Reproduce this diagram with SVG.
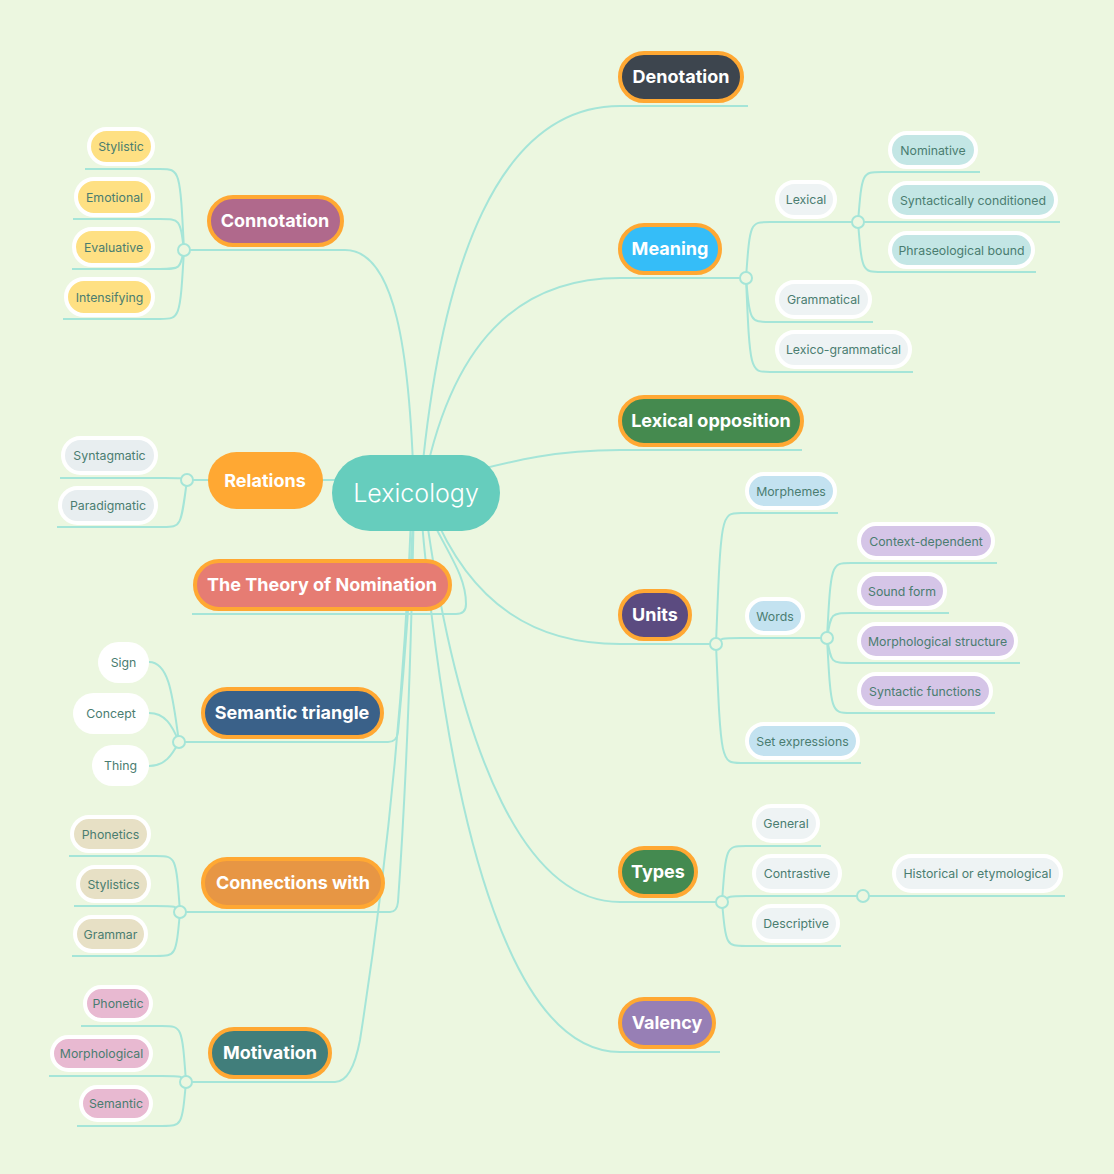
<svg xmlns="http://www.w3.org/2000/svg" width="1114" height="1174" viewBox="0 0 1114 1174">
<style>
.c{fill:none;stroke:#A5E5D8;stroke-width:2}
.j{fill:#ECF7E0;stroke:#A5E5D8;stroke-width:2}
.m{stroke:#FFA833;stroke-width:4}
.mt{font-family:Inter,"Noto Sans",sans-serif;font-weight:700;font-size:18px;fill:#FFFFFF;text-anchor:middle}
.s{stroke:#FFFFFF;stroke-width:4}
.st{font-family:Inter,"Noto Sans",sans-serif;font-size:12.3px;fill:#4A7D70;text-anchor:middle}
</style>
<rect width="1114" height="1174" fill="#ECF7E0"/>
<g id="connectors">
<path class="c" d="M420 493 C440 260 500 106 620 106 H748"/>
<path class="c" d="M422 493 C450 340 520 278 620 278 H746"/>
<path class="c" d="M440 480 C520 458 560 450 620 450 H802"/>
<path class="c" d="M428 500 C470 610 540 644 620 644 H716"/>
<path class="c" d="M424 500 C460 770 530 902 620 902 H722"/>
<path class="c" d="M420 500 C450 860 520 1052 620 1052 H720"/>
<path class="c" d="M184 250 H345 C395 250 410 350 414 493"/>
<path class="c" d="M187 480 H416"/>
<path class="c" d="M192 614 H456 Q466 614 466 604 C466 570 440 545 420 493"/>
<path class="c" d="M179 742 H388 Q397 742 398 732 C406 650 411 580 414 493"/>
<path class="c" d="M180 912 H390 Q397 912 398 902 C408 760 412 620 414 493"/>
<path class="c" d="M186 1082 H335 Q352 1082 360 1040 C385 880 405 700 412 493"/>
<path class="c" d="M184 250 C180 169 180 169 160 169 H85"/>
<path class="c" d="M184 250 C180 219 180 219 160 219 H73"/>
<path class="c" d="M184 250 C180 269 180 269 160 269 H72"/>
<path class="c" d="M184 250 C180 319 180 319 160 319 H63"/>
<path class="c" d="M187 480 C181 478 181 478 165 478 H60"/>
<path class="c" d="M187 480 C181 527 181 527 163 527 H57"/>
<path class="c" d="M179 742 C173 700 170 662 149 662"/>
<path class="c" d="M179 742 C172 725 165 713 149 713"/>
<path class="c" d="M179 742 C172 755 165 766 149 766"/>
<path class="c" d="M180 912 C176 856 176 856 156 856 H69"/>
<path class="c" d="M180 912 C176 906 176 906 156 906 H74"/>
<path class="c" d="M180 912 C176 956 176 956 156 956 H72"/>
<path class="c" d="M186 1082 C182 1026 182 1026 162 1026 H81"/>
<path class="c" d="M186 1082 C182 1076 182 1076 162 1076 H49"/>
<path class="c" d="M186 1082 C182 1126 182 1126 162 1126 H77"/>
<path class="c" d="M746 278 C750 222 750 222 770 222 H858"/>
<path class="c" d="M746 278 C750 322 750 322 770 322 H873"/>
<path class="c" d="M746 278 C750 372 750 372 770 372 H913"/>
<path class="c" d="M858 222 C862 172 862 172 882 172 H980"/>
<path class="c" d="M858 222 H1060"/>
<path class="c" d="M858 222 C862 272 862 272 882 272 H1036"/>
<path class="c" d="M716 644 C721 513 721 513 741 513 H838"/>
<path class="c" d="M716 644 C721 638 721 638 741 638 H827"/>
<path class="c" d="M716 644 C721 763 721 763 741 763 H861"/>
<path class="c" d="M827 638 C831 563 831 563 851 563 H997"/>
<path class="c" d="M827 638 C831 613 831 613 851 613 H949"/>
<path class="c" d="M827 638 C831 663 831 663 851 663 H1020"/>
<path class="c" d="M827 638 C831 713 831 713 851 713 H995"/>
<path class="c" d="M722 902 C726 846 726 846 746 846 H821"/>
<path class="c" d="M722 902 C728 896 730 896 746 896 H863"/>
<path class="c" d="M722 902 C726 946 726 946 746 946 H841"/>
<path class="c" d="M863 896 H1065"/>
<circle class="j" cx="184" cy="250" r="6"/>
<circle class="j" cx="187" cy="480" r="6"/>
<circle class="j" cx="179" cy="742" r="6"/>
<circle class="j" cx="180" cy="912" r="6"/>
<circle class="j" cx="186" cy="1082" r="6"/>
<circle class="j" cx="746" cy="278" r="6"/>
<circle class="j" cx="858" cy="222" r="6"/>
<circle class="j" cx="716" cy="644" r="6"/>
<circle class="j" cx="827" cy="638" r="6"/>
<circle class="j" cx="722" cy="902" r="6"/>
<circle class="j" cx="863" cy="896" r="6"/>
</g>
<g id="lexicology"><rect x="332" y="455" width="168" height="76" rx="38" fill="#66CDBD"/><text x="416" y="502" font-family="Inter,'Noto Sans',sans-serif" font-weight="300" font-size="25" fill="#FFFFFF" text-anchor="middle">Lexicology</text></g>
<g id="denotation"><rect class="m" x="620" y="53" width="122" height="48" rx="24" fill="#3D454E"/><text class="mt" x="681" y="83">Denotation</text></g>
<g id="meaning"><rect class="m" x="620" y="225" width="100" height="48" rx="24" fill="#35BDF8"/><text class="mt" x="670" y="255">Meaning</text></g>
<g id="lexical-opposition"><rect class="m" x="620" y="397" width="182" height="48" rx="24" fill="#458A4F"/><text class="mt" x="711" y="427">Lexical opposition</text></g>
<g id="units"><rect class="m" x="620" y="591" width="70" height="48" rx="24" fill="#5B4B80"/><text class="mt" x="655" y="621">Units</text></g>
<g id="types"><rect class="m" x="620" y="848" width="76" height="48" rx="24" fill="#448A50"/><text class="mt" x="658" y="878">Types</text></g>
<g id="valency"><rect class="m" x="620" y="999" width="94" height="48" rx="24" fill="#977FB5"/><text class="mt" x="667" y="1029">Valency</text></g>
<g id="connotation"><rect class="m" x="209" y="197" width="133" height="48" rx="24" fill="#B0698C"/><text class="mt" x="275" y="227">Connotation</text></g>
<g id="relations"><rect x="208" y="452" width="115" height="57" rx="28.5" fill="#FFA833"/><text class="mt" x="265" y="487">Relations</text></g>
<g id="theory-of-nomination"><rect class="m" x="195" y="561" width="255" height="48" rx="24" fill="#E67C73"/><text class="mt" x="322" y="591">The Theory of Nomination</text></g>
<g id="semantic-triangle"><rect class="m" x="203" y="689" width="179" height="48" rx="24" fill="#3A6189"/><text class="mt" x="292" y="719">Semantic triangle</text></g>
<g id="connections-with"><rect class="m" x="203" y="859" width="180" height="48" rx="24" fill="#E79644"/><text class="mt" x="293" y="889">Connections with</text></g>
<g id="motivation"><rect class="m" x="210" y="1029" width="120" height="48" rx="24" fill="#417E7B"/><text class="mt" x="270" y="1059">Motivation</text></g>
<g id="stylistic"><rect class="s" x="89" y="129" width="64" height="35" rx="17.5" fill="#FEE083"/><text class="st" x="121" y="151">Stylistic</text></g>
<g id="emotional"><rect class="s" x="76" y="179" width="77" height="36" rx="18" fill="#FEE083"/><text class="st" x="114.5" y="201.5">Emotional</text></g>
<g id="evaluative"><rect class="s" x="74" y="229" width="79" height="36" rx="18" fill="#FEE083"/><text class="st" x="113.5" y="251.5">Evaluative</text></g>
<g id="intensifying"><rect class="s" x="66" y="279" width="87" height="36" rx="18" fill="#FEE083"/><text class="st" x="109.5" y="301.5">Intensifying</text></g>
<g id="syntagmatic"><rect class="s" x="63" y="438" width="93" height="35" rx="17.5" fill="#E8EEF0"/><text class="st" x="109.5" y="460">Syntagmatic</text></g>
<g id="paradigmatic"><rect class="s" x="60" y="488" width="96" height="35" rx="17.5" fill="#E8EEF0"/><text class="st" x="108" y="510">Paradigmatic</text></g>
<g id="sign"><rect x="98" y="642" width="51" height="41" rx="20.5" fill="#FFFFFF"/><text class="st" x="123.5" y="667">Sign</text></g>
<g id="concept"><rect x="73" y="693" width="76" height="41" rx="20.5" fill="#FFFFFF"/><text class="st" x="111" y="718">Concept</text></g>
<g id="thing"><rect x="92" y="745" width="57" height="41" rx="20.5" fill="#FFFFFF"/><text class="st" x="120.5" y="770">Thing</text></g>
<g id="phonetics"><rect class="s" x="72" y="817" width="77" height="34" rx="17" fill="#E7E0C5"/><text class="st" x="110.5" y="838.5">Phonetics</text></g>
<g id="stylistics"><rect class="s" x="78" y="867" width="71" height="34" rx="17" fill="#E7E0C5"/><text class="st" x="113.5" y="888.5">Stylistics</text></g>
<g id="grammar"><rect class="s" x="75" y="917" width="71" height="34" rx="17" fill="#E7E0C5"/><text class="st" x="110.5" y="938.5">Grammar</text></g>
<g id="phonetic"><rect class="s" x="85" y="987" width="66" height="33" rx="16.5" fill="#E8B9D1"/><text class="st" x="118" y="1008">Phonetic</text></g>
<g id="morphological"><rect class="s" x="52" y="1037" width="99" height="33" rx="16.5" fill="#E8B9D1"/><text class="st" x="101.5" y="1058">Morphological</text></g>
<g id="semantic"><rect class="s" x="81" y="1087" width="70" height="33" rx="16.5" fill="#E8B9D1"/><text class="st" x="116" y="1108">Semantic</text></g>
<g id="lexical"><rect class="s" x="777" y="182" width="58" height="35" rx="17.5" fill="#EEF3F4"/><text class="st" x="806" y="204">Lexical</text></g>
<g id="grammatical"><rect class="s" x="777" y="282" width="93" height="35" rx="17.5" fill="#EEF3F4"/><text class="st" x="823.5" y="304">Grammatical</text></g>
<g id="lexico-grammatical"><rect class="s" x="777" y="332" width="133" height="35" rx="17.5" fill="#EEF3F4"/><text class="st" x="843.5" y="354">Lexico-grammatical</text></g>
<g id="nominative"><rect class="s" x="890" y="133" width="86" height="34" rx="17" fill="#C3E6E5"/><text class="st" x="933" y="154.5">Nominative</text></g>
<g id="syntactically-conditioned"><rect class="s" x="890" y="183" width="166" height="34" rx="17" fill="#C3E6E5"/><text class="st" x="973" y="204.5">Syntactically conditioned</text></g>
<g id="phraseological-bound"><rect class="s" x="890" y="233" width="143" height="34" rx="17" fill="#C3E6E5"/><text class="st" x="961.5" y="254.5">Phraseological bound</text></g>
<g id="morphemes"><rect class="s" x="747" y="474" width="88" height="34" rx="17" fill="#C3E2F0"/><text class="st" x="791" y="495.5">Morphemes</text></g>
<g id="words"><rect class="s" x="747" y="599" width="56" height="34" rx="17" fill="#C3E2F0"/><text class="st" x="775" y="620.5">Words</text></g>
<g id="set-expressions"><rect class="s" x="747" y="724" width="111" height="34" rx="17" fill="#C3E2F0"/><text class="st" x="802.5" y="745.5">Set expressions</text></g>
<g id="context-dependent"><rect class="s" x="859" y="524" width="134" height="34" rx="17" fill="#D5C5E7"/><text class="st" x="926" y="545.5">Context-dependent</text></g>
<g id="sound-form"><rect class="s" x="859" y="574" width="86" height="34" rx="17" fill="#D5C5E7"/><text class="st" x="902" y="595.5">Sound form</text></g>
<g id="morphological-structure"><rect class="s" x="859" y="624" width="157" height="34" rx="17" fill="#D5C5E7"/><text class="st" x="937.5" y="645.5">Morphological structure</text></g>
<g id="syntactic-functions"><rect class="s" x="859" y="674" width="132" height="34" rx="17" fill="#D5C5E7"/><text class="st" x="925" y="695.5">Syntactic functions</text></g>
<g id="general"><rect class="s" x="754" y="806" width="64" height="35" rx="17.5" fill="#EEF3F4"/><text class="st" x="786" y="828">General</text></g>
<g id="contrastive"><rect class="s" x="754" y="856" width="86" height="35" rx="17.5" fill="#EEF3F4"/><text class="st" x="797" y="878">Contrastive</text></g>
<g id="descriptive"><rect class="s" x="754" y="906" width="84" height="35" rx="17.5" fill="#EEF3F4"/><text class="st" x="796" y="928">Descriptive</text></g>
<g id="historical-or-etymological"><rect class="s" x="894" y="856" width="167" height="35" rx="17.5" fill="#EEF3F4"/><text class="st" x="977.5" y="878">Historical or etymological</text></g>
</svg>
